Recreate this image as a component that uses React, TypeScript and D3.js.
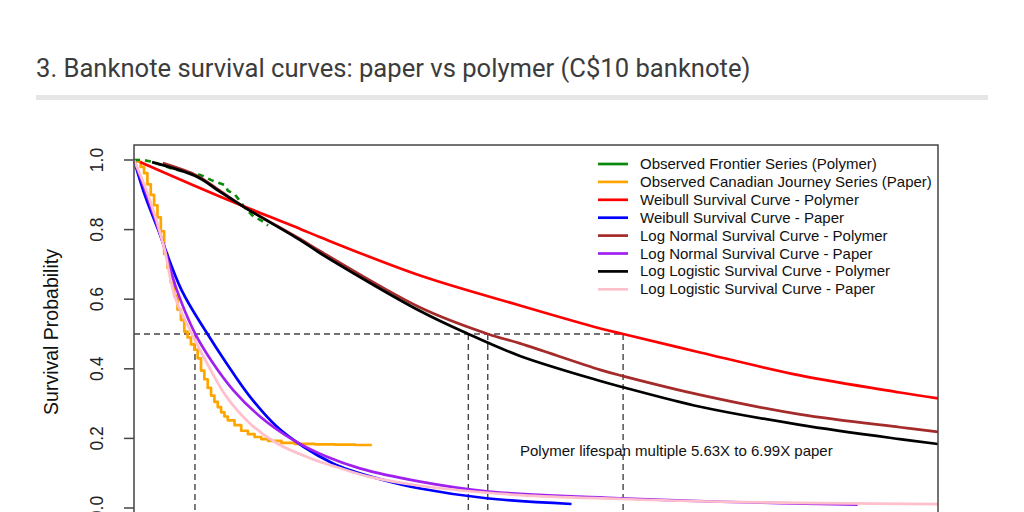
import React, { useEffect, useRef } from 'react';
import * as d3 from 'd3';

// [months, survival probability]
const frontierObserved: [number, number][] = [
  [0, 1.0], [1.3, 1.0], [2.7, 0.995], [5.7, 0.975], [7.8, 0.965], [9.9, 0.957],
  [11.8, 0.94], [13.6, 0.928], [14.0, 0.912], [15.1, 0.9], [16.6, 0.862],
  [17.8, 0.838], [19.1, 0.825], [20.0, 0.812],
];

const journeyObserved: [number, number][] = [
  [0, 1.0], [0.5, 0.995], [1.0, 0.98], [1.5, 0.962], [2.0, 0.93], [2.5, 0.9],
  [3.0, 0.87], [3.5, 0.835], [4.0, 0.795], [4.5, 0.73], [5.0, 0.69], [5.5, 0.648],
  [6.0, 0.61], [6.5, 0.57], [7.0, 0.54], [7.5, 0.507], [8.0, 0.49], [8.5, 0.47],
  [9.0, 0.455], [9.5, 0.43], [10.0, 0.395], [10.5, 0.37], [11.0, 0.345],
  [11.5, 0.323], [12.0, 0.305], [12.5, 0.29], [13.0, 0.275], [13.5, 0.263],
  [14, 0.252], [15, 0.238], [16, 0.222], [17, 0.212], [18, 0.204], [19, 0.198],
  [20, 0.193], [22, 0.187], [24, 0.184], [27, 0.183], [30, 0.182], [33, 0.181],
  [35.5, 0.181],
];

const weibullPolymer: [number, number][] = [
  [0.9, 0.994], [12.8, 0.895], [24.8, 0.802], [27.8, 0.778], [42.7, 0.668],
  [57.6, 0.582], [69.6, 0.516], [73.0, 0.5], [84.5, 0.447], [99.4, 0.381],
  [114.3, 0.332], [120, 0.315],
];

const weibullPaper: [number, number][] = [
  [0, 1.0], [1.6, 0.9], [3.6, 0.8], [7.1, 0.626], [10.9, 0.502], [13.8, 0.416],
  [17.3, 0.32], [21.3, 0.234], [25.3, 0.176], [29.7, 0.128], [32.2, 0.109],
  [36.7, 0.083], [42.7, 0.056], [52.6, 0.028], [65.3, 0.0115],
];

const logNormalPolymer: [number, number][] = [
  [4.3, 0.991], [9.4, 0.955], [12.8, 0.912], [16.3, 0.867], [24.8, 0.773],
  [27.8, 0.738], [42.7, 0.576], [52.8, 0.5], [57.6, 0.473], [69.6, 0.397],
  [73.0, 0.379], [84.5, 0.325], [99.4, 0.269], [114.3, 0.232], [120, 0.219],
];

const logNormalPaper: [number, number][] = [
  [0, 1.0], [1.9, 0.9], [4.4, 0.756], [6.4, 0.626], [9.1, 0.502], [11.8, 0.416],
  [14.8, 0.339], [18.8, 0.263], [23.8, 0.195], [28.8, 0.147], [33.7, 0.114],
  [42.7, 0.076], [52.6, 0.048], [72.5, 0.028], [87.5, 0.018], [108, 0.0095],
];

const logLogisticPolymer: [number, number][] = [
  [2.7, 0.994], [9.4, 0.952], [12.8, 0.909], [16.3, 0.866], [24.8, 0.77],
  [27.8, 0.732], [42.7, 0.566], [49.9, 0.5], [57.6, 0.437], [69.6, 0.365],
  [73.0, 0.347], [84.5, 0.291], [99.4, 0.239], [114.3, 0.198], [120, 0.184],
];

const logLogisticPaper: [number, number][] = [
  [0, 1.0], [2.1, 0.9], [4.4, 0.756], [6.1, 0.607], [8.6, 0.502], [10.9, 0.416],
  [13.8, 0.32], [17.3, 0.243], [21.3, 0.186], [26.3, 0.143], [30.3, 0.117],
  [35, 0.09], [42.7, 0.064], [57.6, 0.037], [72.5, 0.026], [87.5, 0.018],
  [120, 0.011],
];

// medians (months) where the dashed guides drop
const paperMedian = 9.1;
const polymerMedians = [49.9, 52.8, 73.0];

const yTicks = [0, 0.2, 0.4, 0.6, 0.8, 1.0];

const legendLabels = [
  'Observed Frontier Series (Polymer)',
  'Observed Canadian Journey Series (Paper)',
  'Weibull Survival Curve - Polymer',
  'Weibull Survival Curve - Paper',
  'Log Normal Survival Curve - Polymer',
  'Log Normal Survival Curve - Paper',
  'Log Logistic Survival Curve - Polymer',
  'Log Logistic Survival Curve - Paper',
];
const legendColors = ['#0a8a0a', '#ffa500', '#ff0000', '#0000ff', '#a52a2a', '#a020f0', '#000000', '#ffc0cb'];

const App: React.FC = () => {
  const svgRef = useRef<SVGSVGElement>(null);

  useEffect(() => {
    if (!svgRef.current) return;
    const svg = d3.select(svgRef.current);
    svg.selectAll('*').remove();

    const width = 1024;
    const height = 512;
    svg.attr('width', width).attr('height', height);

    // header
    svg.append('text')
      .attr('x', 36)
      .attr('y', 77)
      .style('font-family', 'Roboto, sans-serif')
      .style('font-size', '25.6px')
      .style('fill', '#3c3c3c')
      .text('3. Banknote survival curves: paper vs polymer (C$10 banknote)');

    svg.append('rect')
      .attr('x', 36).attr('y', 95)
      .attr('width', 952).attr('height', 5)
      .style('fill', '#e6e6e6');

    const plot = { left: 134, right: 938, top: 145, bottom: 522 };

    const x = d3.scaleLinear().domain([0, 120]).range([plot.left, plot.right]);
    const y = d3.scaleLinear().domain([0, 1]).range([508, 160]);

    const font = '"Liberation Sans", Arial, sans-serif';

    // y axis
    const yAxis = svg.append('g');
    yAxis.selectAll('line')
      .data(yTicks)
      .enter()
      .append('line')
      .attr('x1', plot.left - 10).attr('x2', plot.left)
      .attr('y1', d => y(d)).attr('y2', d => y(d))
      .style('stroke', '#444').style('stroke-width', 1.5);

    yAxis.selectAll('text')
      .data(yTicks)
      .enter()
      .append('text')
      .attr('transform', d => `translate(103,${y(d)}) rotate(-90)`)
      .attr('text-anchor', 'middle')
      .style('font-family', font)
      .style('font-size', '17.5px')
      .style('fill', '#222')
      .text(d => d.toFixed(1));

    svg.append('text')
      .attr('transform', `translate(58,${332}) rotate(-90)`)
      .attr('text-anchor', 'middle')
      .style('font-family', font)
      .style('font-size', '19.5px')
      .style('fill', '#111')
      .text('Survival Probability');

    const g = svg.append('g');

    // median guides
    const dash = '6,4';
    g.append('line')
      .attr('x1', plot.left).attr('x2', x(polymerMedians[2]))
      .attr('y1', y(0.5)).attr('y2', y(0.5))
      .style('stroke', '#444').style('stroke-width', 1.4).style('stroke-dasharray', dash);

    g.selectAll('.median')
      .data([paperMedian, ...polymerMedians])
      .enter()
      .append('line')
      .attr('class', 'median')
      .attr('x1', d => x(d)).attr('x2', d => x(d))
      .attr('y1', y(0.5)).attr('y2', plot.bottom)
      .style('stroke', '#444').style('stroke-width', 1.4).style('stroke-dasharray', dash);

    const smooth = d3.line<[number, number]>()
      .x(d => x(d[0]))
      .y(d => y(d[1]))
      .curve(d3.curveCatmullRom.alpha(0.5));

    const step = d3.line<[number, number]>()
      .x(d => x(d[0]))
      .y(d => y(d[1]))
      .curve(d3.curveStepAfter);

    const straight = d3.line<[number, number]>()
      .x(d => x(d[0]))
      .y(d => y(d[1]));

    const series = [
      { data: journeyObserved, gen: step, color: legendColors[1], dash: null },
      { data: frontierObserved, gen: straight, color: legendColors[0], dash: '6,5' },
      { data: weibullPolymer, gen: smooth, color: legendColors[2], dash: null },
      { data: weibullPaper, gen: smooth, color: legendColors[3], dash: null },
      { data: logNormalPolymer, gen: smooth, color: legendColors[4], dash: null },
      { data: logNormalPaper, gen: smooth, color: legendColors[5], dash: null },
      { data: logLogisticPolymer, gen: smooth, color: legendColors[6], dash: null },
      { data: logLogisticPaper, gen: smooth, color: legendColors[7], dash: null },
    ];

    series.forEach(s => {
      g.append('path')
        .attr('d', s.gen(s.data) as string)
        .style('fill', 'none')
        .style('stroke', s.color)
        .style('stroke-width', 2.7)
        .style('stroke-linejoin', 'round')
        .style('stroke-dasharray', s.dash);
    });

    // plot box
    svg.append('rect')
      .attr('x', plot.left).attr('y', plot.top)
      .attr('width', plot.right - plot.left)
      .attr('height', plot.bottom - plot.top)
      .style('fill', 'none')
      .style('stroke', '#444')
      .style('stroke-width', 1.5);

    // annotation
    svg.append('text')
      .attr('x', 520).attr('y', 456)
      .style('font-family', font)
      .style('font-size', '15px')
      .style('fill', '#111')
      .text('Polymer lifespan multiple 5.63X to 6.99X paper');

    // legend
    const legend = svg.append('g').attr('transform', 'translate(598,164)');
    const items = legend.selectAll('.legend-item')
      .data(legendLabels)
      .enter()
      .append('g')
      .attr('class', 'legend-item')
      .attr('transform', (d, i) => `translate(0,${i * 17.9})`);

    items.append('line')
      .attr('x1', 0).attr('x2', 30)
      .attr('y1', 0).attr('y2', 0)
      .style('stroke', (d, i) => legendColors[i])
      .style('stroke-width', 2.7);

    items.append('text')
      .attr('x', 42)
      .attr('y', 5)
      .style('font-family', font)
      .style('font-size', '15px')
      .style('fill', '#111')
      .text(d => d);
  }, []);

  return (
    <div style={{ position: 'absolute', left: 0, top: 0 }}>
      <svg ref={svgRef} style={{ display: 'block' }}></svg>
    </div>
  );
};

export default App;
